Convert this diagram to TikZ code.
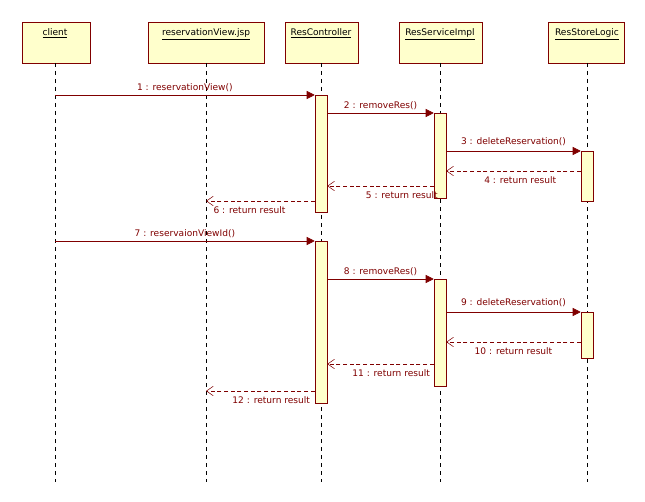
\documentclass[tikz,border=0pt]{standalone}
\usepackage{fontspec}
\setmainfont{DejaVu Sans}
\usetikzlibrary{arrows.meta}
\definecolor{umlred}{HTML}{800000}
\definecolor{umlfill}{HTML}{FFFFCC}
\tikzset{
    x=0.75pt, y=-0.75pt,
    head/.style={draw=umlred, fill=umlfill, inner sep=0pt, anchor=north west},
    act/.style={draw=umlred, fill=umlfill, minimum width=9pt, inner sep=0pt},
    life/.style={dashed, black, thin},
    call/.style={umlred, -{Triangle[length=6pt,width=6pt]}},
    ret/.style={umlred, densely dashed, -{Straight Barb[length=5pt,width=7pt]}},
    lbl/.style={font=\fontsize{6.8}{8}\selectfont, inner sep=1pt},
}
\newcommand{\headbox}[5]{% name, x1, x2, text, lifeline x
  \node[head, minimum width={(#3-#2)*0.75pt}, minimum height=30.75pt] (#1) at (#2,22) {};
  \node[lbl, anchor=north] at (#5,27) {\underline{#4}};
}
\newcommand{\actbar}[4]{% name, x, y1, y2
  \node[act, minimum height={(#4-#3)*0.75pt}, anchor=north] (#1) at (#2,#3) {};
}
\begin{document}
\begin{tikzpicture}
\useasboundingbox (0,0) rectangle (645,502);
\fill[white] (0,0) rectangle (645,502);
% heads
\headbox{client}{22}{90}{client}{55}
\headbox{jsp}{148}{264}{reservationView.jsp}{206}
\headbox{ctl}{285}{358}{ResController}{321}
\headbox{svc}{399}{482}{ResServiceImpl}{440}
\headbox{sto}{548}{624}{ResStoreLogic}{587}
% lifelines
\foreach \n/\x in {client/55, jsp/206, ctl/321, svc/440, sto/587}
  \draw[life] (\x,63) -- (\x,482);
% activations
\actbar{c1}{321}{95}{212}
\actbar{s1}{440}{113}{198}
\actbar{l1}{587}{151}{201}
\actbar{c2}{321}{241}{403}
\actbar{s2}{440}{279}{386}
\actbar{l2}{587}{312}{358}
% end points on lifelines
\coordinate (m1a) at (55,95);
\coordinate (m6b) at (206,201);
\coordinate (m7a) at (55,241);
\coordinate (m12b) at (206,391);
% messages
\draw[call] (m1a) -- (c1.north west) node[lbl, pos=0.5, above=1pt] {1 : reservationView()};
\draw[call] (c1.east |- 0,113) -- (s1.north west) node[lbl, midway, above=1pt] {2 : removeRes()};
\draw[call] (s1.east |- 0,151) -- (l1.north west) node[lbl, midway, above=3pt] {3 : deleteReservation()};
\draw[ret] (l1.west |- 0,171) -- (s1.east |- 0,171) node[lbl, pos=0.45, below=3pt] {4 : return result};
\draw[ret] (s1.west |- 0,186) -- (c1.east |- 0,186) node[lbl, pos=0.3, below=3pt] {5 : return result};
\draw[ret] (c1.west |- 0,201) -- (m6b) node[lbl, pos=0.6, below=3pt] {6 : return result};
\draw[call] (m7a) -- (c2.north west) node[lbl, pos=0.5, above=1pt] {7 : reservaionViewId()};
\draw[call] (c2.east |- 0,279) -- (s2.north west) node[lbl, midway, above=1pt] {8 : removeRes()};
\draw[call] (s2.east |- 0,312) -- (l2.north west) node[lbl, midway, above=3pt] {9 : deleteReservation()};
\draw[ret] (l2.west |- 0,342) -- (s2.east |- 0,342) node[lbl, pos=0.5, below=3pt] {10 : return result};
\draw[ret] (s2.west |- 0,364) -- (c2.east |- 0,364) node[lbl, pos=0.4, below=3pt] {11 : return result};
\draw[ret] (c2.west |- 0,391) -- (m12b) node[lbl, pos=0.4, below=3pt] {12 : return result};
\end{tikzpicture}
\end{document}
